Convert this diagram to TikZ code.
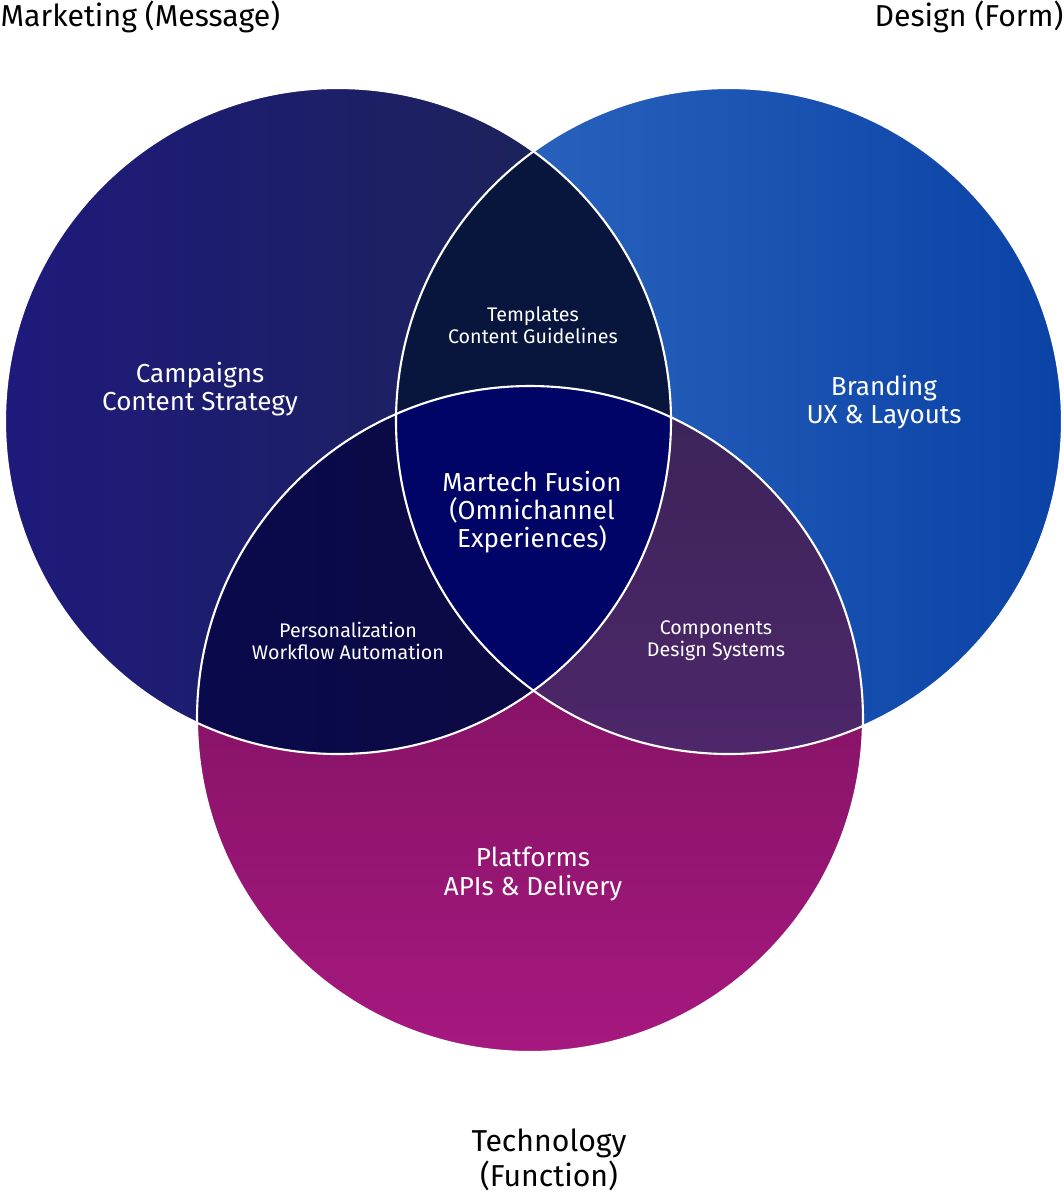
\documentclass[tikz,border=0pt]{standalone}
\usepackage{fontspec}
\setmainfont{Fira Sans}
\definecolor{mktL}{HTML}{1E1A7C}
\definecolor{mktR}{HTML}{1C2452}
\definecolor{dsnL}{HTML}{3069C2}
\definecolor{dsnR}{HTML}{0A42A6}
\definecolor{tecT}{HTML}{6C0F52}
\definecolor{tecB}{HTML}{A6187F}
\definecolor{mdCol}{HTML}{08163E}
\definecolor{mtL}{HTML}{0A0850}
\definecolor{mtR}{HTML}{0B0B40}
\definecolor{dtT}{HTML}{3A2358}
\definecolor{dtB}{HTML}{5E2A78}
\definecolor{allCol}{HTML}{000466}
\begin{document}
\begin{tikzpicture}[x=0.01cm, y=-0.01cm,
  edge/.style={draw=white, line width=0.6pt},
  big/.style={text=white, font=\fontsize{7.4}{8}\selectfont, align=center},
  small/.style={text=white, font=\fontsize{5.6}{6.2}\selectfont, align=center},
  title/.style={text=black, font=\fontsize{8.6}{9}\selectfont, align=center, inner sep=0pt}]
  \useasboundingbox (0,0) rectangle (1064,1196);
  \def\r{333}
  \coordinate (m) at (338,421);
  \coordinate (d) at (729,421);
  \coordinate (t) at (530,719);

  % circles
  \shade[left color=mktL, right color=mktR] (m) circle (\r);
  \shade[left color=dsnL, right color=dsnR] (d) circle (\r);
  \shade[top color=tecT, bottom color=tecB] (t) circle (\r);

  % overlaps
  \begin{scope}
    \clip (m) circle (\r);
    \fill[mdCol] (d) circle (\r);
    \clip (t) circle (\r);
    \shade[left color=mtL, right color=mtR] (m) circle (\r);
  \end{scope}
  \begin{scope}
    \clip (d) circle (\r);
    \shade[top color=dtT, bottom color=dtB] (t) circle (\r);
  \end{scope}
  \begin{scope}
    \clip (m) circle (\r);
    \clip (d) circle (\r);
    \fill[allCol] (t) circle (\r);
  \end{scope}

  \foreach \c in {m, d, t} {
    \draw[edge] (\c) circle (\r);
  }

  % labels
  \node[title, anchor=north west] (mktTitle) at (0,0) {Marketing (Message)};
  \node[title, anchor=north east] (dsnTitle) at (1064,0) {Design (Form)};
  \node[title] (tecTitle) at (549,1160) {Technology\\(Function)};

  \node[big] (mkt) at (200,389) {Campaigns\\Content Strategy};
  \node[big] (dsn) at (884,402) {Branding\\UX \& Layouts};
  \node[big] (tec) at (533,874) {Platforms\\APIs \& Delivery};
  \node[big] (all) at (532,512) {Martech Fusion\\(Omnichannel\\Experiences)};

  \node[small] (md) at (533,325) {Templates\\Content Guidelines};
  \node[small] (mt) at (348,641) {Personalization\\Workflow Automation};
  \node[small] (dt) at (716,641) {Components\\Design Systems};
\end{tikzpicture}
\end{document}
